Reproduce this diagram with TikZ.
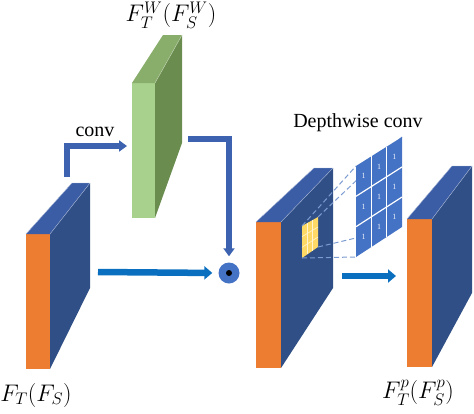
\RequirePackage{fix-cm}
\documentclass[tikz,border=0pt]{standalone}
\usepackage{amsmath}
\usepackage{fontspec}
\setmainfont{Liberation Serif}
\usetikzlibrary{arrows.meta, calc, positioning}
\definecolor{featorange}{HTML}{ED7D31}
\definecolor{featside}{HTML}{2F4F86}
\definecolor{feattop}{HTML}{3B5DA6}
\definecolor{wfront}{HTML}{A9D18E}
\definecolor{wside}{HTML}{6A8C4F}
\definecolor{wtop}{HTML}{89AE6B}
\definecolor{kernblue}{HTML}{4472C4}
\definecolor{convblue}{HTML}{3C62B0}
\definecolor{flowblue}{HTML}{0B6FC0}
\definecolor{patchyellow}{HTML}{FFD966}
\definecolor{dashblue}{HTML}{7C9BD0}

\begin{document}
\begin{tikzpicture}[x=1pt,y=-1pt,
		lbl/.style={font=\fontsize{20}{23}\selectfont, inner sep=0pt},
		mathlbl/.style={font=\fontsize{24}{28}\selectfont, inner sep=0pt},
		convarrow/.style={draw=convblue, line width=5.5pt, -{Triangle[length=8pt,width=11pt]}},
		flowarrow/.style={draw=flowblue, line width=6.5pt, -{Triangle[length=8pt,width=13pt]}},
		edge/.style={draw=white!55!feattop, line width=0.4pt},
		kernline/.style={draw=white, line width=1.2pt},
		patchline/.style={draw=white!70!patchyellow, line width=0.6pt},
		zoomline/.style={draw=dashblue, line width=1pt, dash pattern=on 5pt off 3pt}]
		\useasboundingbox (0,0) rectangle (474,413);

		% input feature F_T(F_S)
		\fill[featorange] (26,234) -- (50,234) -- (50,369) -- (26,369) -- cycle;
		\fill[feattop] (26,234) -- (72,183) -- (90,183) -- (50,234) -- cycle;
		\fill[featside] (50,234) -- (90,183) -- (90,288) -- (50,369) -- cycle;
		\draw[edge] (26,234) -- (72,183) -- (90,183) (50,234) -- (90,183);

		% weight feature F_T^W(F_S^W)
		\fill[wfront] (132,83) -- (155,83) -- (155,218) -- (132,218) -- cycle;
		\fill[wtop] (132,83) -- (163,35) -- (182,35) -- (155,83) -- cycle;
		\fill[wside] (155,83) -- (182,35) -- (182,143) -- (155,218) -- cycle;
		\draw[draw=white!50!wtop, line width=0.4pt] (155,83) -- (182,35);

		% product feature
		\fill[featorange] (256,222) -- (281,222) -- (281,368) -- (256,368) -- cycle;
		\fill[feattop] (256,222) -- (314,168) -- (333,168) -- (281,222) -- cycle;
		\fill[featside] (281,222) -- (333,168) -- (333,288) -- (281,368) -- cycle;
		\draw[edge] (256,222) -- (314,168) -- (333,168) (281,222) -- (333,168);

		% output feature F_T^p(F_S^p)
		\fill[featorange] (407,219) -- (432,219) -- (432,367) -- (407,367) -- cycle;
		\fill[feattop] (407,219) -- (452,166) -- (472,166) -- (432,219) -- cycle;
		\fill[featside] (432,219) -- (472,166) -- (472,293) -- (432,367) -- cycle;
		\draw[edge] (407,219) -- (452,166) -- (472,166) (432,219) -- (472,166);

		% 3x3 patch
		\coordinate(ptl) at (302,226);
		\coordinate(ptr) at (318,217);
		\coordinate(pbr) at (318,247);
		\coordinate(pbl) at (302,258);
		\fill[patchyellow] (ptl) -- (ptr) -- (pbr) -- (pbl) -- cycle;
		\foreach \t in {0.333,0.667} {
			\draw[patchline] ($(ptl)!\t!(pbl)$) -- ($(ptr)!\t!(pbr)$);
			\draw[patchline] ($(ptl)!\t!(ptr)$) -- ($(pbl)!\t!(pbr)$);
		}

		% kernel corners
		\coordinate(ktl) at (356,166);
		\coordinate(ktr) at (402,137);
		\coordinate(kbr) at (402,227);
		\coordinate(kbl) at (356,257);

		\draw[zoomline] (ptl) -- (ktl);
		\draw[zoomline] (ptr) -- (ktr);
		\draw[zoomline] (pbl) -- (kbl);
		\draw[zoomline] (pbr) -- (kbr);

		% depthwise kernel
		\fill[kernblue] (ktl) -- (ktr) -- (kbr) -- (kbl) -- cycle;
		\foreach \t in {0.333,0.667} {
			\draw[kernline] ($(ktl)!\t!(kbl)$) -- ($(ktr)!\t!(kbr)$);
			\draw[kernline] ($(ktl)!\t!(ktr)$) -- ($(kbl)!\t!(kbr)$);
		}
		\foreach \i in {0,1,2} {
			\foreach \j in {0,1,2} {
				\node[font=\fontsize{8}{9}\selectfont, text=white!90!kernblue, inner sep=0pt] at ($($(ktl)!{(\j+0.5)/3}!(kbl)$)!{(\i+0.5)/3}!($(ktr)!{(\j+0.5)/3}!(kbr)$)$) {1};
			}
		}

		% labels
		\node(conv) [lbl] at (95,132) {conv};
		\node(dwconv) [lbl] at (358,123) {Depthwise conv};
		\node(fw) [mathlbl] at (171,15) {$F_T^W(F_S^W)$};
		\node(fin) [mathlbl] at (36,395) {$F_T(F_S)$};
		\node(fout) [mathlbl] at (418,393) {$F_T^p(F_S^p)$};

		% element-wise product
		\node(prod) [circle, fill=kernblue, minimum size=21pt, inner sep=0pt] at (229,273) {};
		\node(proddot) [circle, fill=black, minimum size=6pt, inner sep=0pt] at (prod.center) {};

		% connectors
		\coordinate(convstart) at (67,177);
		\coordinate(convend) at (127,146);
		\coordinate(wstart) at (188,139);
		\coordinate(instart) at (98,272);
		\coordinate(midstart) at (342,276);
		\coordinate(outend) at (396,276);

		\draw[convarrow] (convstart) |- (convend);
		\draw[convarrow, shorten >=6pt] (wstart) -| (prod.north);
		\draw[flowarrow, shorten >=6pt] (instart) -- (prod.west);
		\draw[flowarrow] (midstart) -- (outend);
		
		\end{tikzpicture}
\end{document}
